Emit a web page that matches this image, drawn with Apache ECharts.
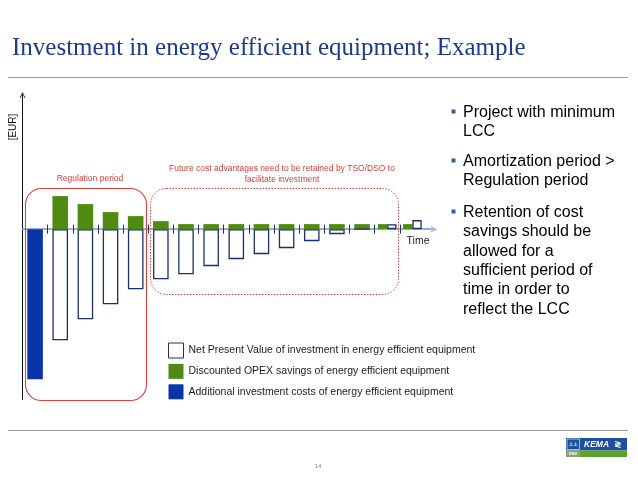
<!DOCTYPE html>
<html><head><meta charset="utf-8">
<script src="https://cdn.jsdelivr.net/npm/echarts@6/dist/echarts.min.js"></script>
<style>html,body{margin:0;padding:0;background:#fff}#c{width:638px;height:479px}</style>
</head><body><div id="c"></div>
<script>
// ---- data ----
const periods = [0,1,2,3,4,5,6,7,8,9,10,11,12,13,14,15];
const investment = [-150];                                   // period 0
const savings = [33,25,17,13,8,5,5,5,5,5,5,5,5,5,5];         // periods 1..15
const npv = [-111,-90,-75,-60,-50,-45,-37,-30,-25,-19,-12,-5,0,5,9]; // periods 1..15
const legendNames = [
  'Net Present Value of investment in energy efficient equipment',
  'Discounted OPEX savings of energy efficient equipment',
  'Additional investment costs of energy efficient equipment'
];
const titleText = 'Investment in energy efficient equipment; Example';
const yAxisName = '[EUR]';
const xAxisName = 'Time';
const regulationLabel = 'Regulation period';
const futureLabel = 'Future cost advantages need to be retained by TSO/DSO to\nfacilitate investment';
const bullets = [
  'Project with minimum\nLCC',
  'Amortization period >\nRegulation period',
  'Retention of cost\nsavings should be\nallowed for a\nsufficient period of\ntime in order to\nreflect the LCC'
];
const pageNumber = '14';
const SIDE_FROM = 14; // periods drawn side by side

// ---- build ----
const later = periods.slice(1);
const pairs = arr => later.map((p, i) => [p, arr[i]]);
const mainPart = arr => pairs(arr).filter(d => d[0] < SIDE_FROM);
const sidePart = arr => pairs(arr).filter(d => d[0] >= SIDE_FROM);
const tickValues = later.map(p => p - 0.5);

const GREEN = '#4f8a12', BLUE = '#0a34a8', NAVY = '#1b2f6b';
const RED = '#d9413b';
const npvStyle = {color: '#ffffff', borderColor: NAVY, borderWidth: 1.3};

const chart = echarts.init(document.getElementById('c'), null, {renderer: 'canvas'});

const graphic = [
  {type: 'text', x: 12, y: 48.5, style: {text: titleText, font: '25px "Liberation Serif"', fill: '#1b3a8f', verticalAlign: 'middle'}},
  {type: 'line', shape: {x1: 8, y1: 77.5, x2: 628, y2: 77.5}, style: {stroke: '#9a9a9a', lineWidth: 1.2}},
  {type: 'line', shape: {x1: 8, y1: 430.5, x2: 628, y2: 430.5}, style: {stroke: '#9a9a9a', lineWidth: 1.2}},
  {type: 'text', x: 13, y: 127, rotation: Math.PI / 2, style: {text: yAxisName, x: 0, y: 0, font: '10px "Liberation Sans"', fill: '#111', align: 'center', verticalAlign: 'middle'}},
  {type: 'text', x: 418, y: 241, style: {text: xAxisName, font: '10.5px "Liberation Sans"', fill: '#222', align: 'center', verticalAlign: 'middle'}},
  // regulation period box
  {type: 'rect', shape: {x: 25.5, y: 188.5, width: 121, height: 212, r: 16}, style: {fill: 'none', stroke: RED, lineWidth: 1.1}, z: 10},
  {type: 'text', x: 90, y: 179, style: {text: regulationLabel, font: '8.5px "Liberation Sans"', fill: RED, align: 'center', verticalAlign: 'middle'}},
  // future box
  {type: 'rect', shape: {x: 150.5, y: 188.5, width: 248, height: 106, r: 16}, style: {fill: 'none', stroke: RED, lineWidth: 1, lineDash: [1.5, 1.5]}, z: 10},
  {type: 'text', x: 282, y: 174.5, style: {text: futureLabel, font: '8.5px "Liberation Sans"', fill: RED, align: 'center', verticalAlign: 'middle', lineHeight: 11}},
  {type: 'text', x: 318, y: 466, style: {text: pageNumber, font: '6px "Liberation Sans"', fill: '#888', align: 'center', verticalAlign: 'middle'}},
  // logo
  {type: 'rect', shape: {x: 566, y: 438, width: 61, height: 12.5}, style: {fill: '#1f4f9f'}},
  {type: 'rect', shape: {x: 566, y: 450.5, width: 14, height: 6.5}, style: {fill: '#86a86c'}},
  {type: 'rect', shape: {x: 580, y: 450.5, width: 47, height: 6.5}, style: {fill: '#5ea12c'}},
  {type: 'rect', shape: {x: 567, y: 439, width: 12.5, height: 10.5}, style: {fill: 'none', stroke: '#fff', lineWidth: 0.6}},
  {type: 'text', x: 573.3, y: 444.5, style: {text: '⚓⚓', font: '5px "DejaVu Sans"', fill: '#fff', align: 'center', verticalAlign: 'middle'}},
  {type: 'text', x: 573, y: 453.8, style: {text: 'DNV', font: 'bold 4px "Liberation Sans"', fill: '#fff', align: 'center', verticalAlign: 'middle'}},
  {type: 'text', x: 584, y: 444.5, style: {text: 'KEMA', font: 'italic bold 8.5px "Liberation Sans"', fill: '#fff', verticalAlign: 'middle'}},
  {type: 'text', x: 614, y: 444.5, style: {text: '≷', font: 'bold 9px "DejaVu Sans"', fill: '#fff', verticalAlign: 'middle'}}
];
const firstLineCenters = [112.7, 161.7, 212.7];
bullets.forEach((b, i) => {
  graphic.push({type: 'rect', shape: {x: 451.5, y: firstLineCenters[i] - 3.2, width: 4, height: 4}, style: {fill: '#2f5ea8'}});
  graphic.push({type: 'text', x: 463, y: firstLineCenters[i] - 9.65, style: {text: b, font: '16px "Liberation Sans"', fill: '#000', verticalAlign: 'top', lineHeight: 19.3}});
});

const xCommon = {
  type: 'value', min: -0.5, max: 15.82,
  axisLabel: {show: false}, splitLine: {show: false}
};

chart.setOption({
  animation: false,
  backgroundColor: '#fff',
  grid: {left: 22.5, right: 205, top: 95, bottom: 79.7, containLabel: false, outerBoundsMode: 'none'},
  xAxis: [
    Object.assign({}, xCommon, {
      position: 'bottom',
      axisLine: {show: true, onZero: true, onZeroAxisIndex: 0,
        lineStyle: {color: '#7e95c2', width: 1.6},
        symbol: ['none', 'path://M0,10 L5,0 L10,10 L8.6,10 L5,2.8 L1.4,10 Z'], symbolSize: [9, 6], symbolOffset: [0, 1]},
      axisTick: {show: true, inside: true, length: 4.5, customValues: tickValues, lineStyle: {color: NAVY, width: 1}}
    }),
    Object.assign({}, xCommon, {
      position: 'bottom',
      axisLine: {show: false, onZero: true, onZeroAxisIndex: 0},
      axisTick: {show: true, inside: false, length: 4.5, customValues: tickValues, lineStyle: {color: NAVY, width: 1}}
    })
  ],
  yAxis: {
    type: 'value', min: -170, max: 134,
    axisLine: {show: true, onZero: false, lineStyle: {color: '#111', width: 1},
      symbol: ['none', 'path://M0,10 L5,0 L10,10 L8.6,10 L5,2.8 L1.4,10 Z'], symbolSize: [7, 6]},
    axisTick: {show: false}, axisLabel: {show: false}, splitLine: {show: false}
  },
  legend: {
    data: legendNames, orient: 'vertical', left: 163, top: 337.5,
    itemWidth: 15, itemHeight: 15, itemGap: 5.4, icon: 'rect',
    selectedMode: false,
    itemStyle: {borderWidth: 1},
    textStyle: {fontSize: 10.5, fontFamily: 'Liberation Sans', color: '#1a1a1a', padding: [0, 0, 0, 0]}
  },
  series: [
    {name: legendNames[2], type: 'bar', xAxisIndex: 0, barWidth: 15.6, barGap: '-100%',
      data: [[periods[0], investment[0]]], itemStyle: {color: BLUE}},
    {name: legendNames[1], type: 'bar', xAxisIndex: 0, barWidth: 15.6, barGap: '-100%',
      data: mainPart(savings), itemStyle: {color: GREEN}},
    {name: legendNames[0], type: 'bar', xAxisIndex: 0, barWidth: 15.6, barGap: '-100%',
      data: mainPart(npv), itemStyle: npvStyle},
    {name: legendNames[1], type: 'bar', xAxisIndex: 1, barWidth: 9.3, barGap: '0%',
      data: sidePart(savings), itemStyle: {color: GREEN}},
    {name: legendNames[0], type: 'bar', xAxisIndex: 1, barWidth: 9.3, barGap: '0%',
      data: sidePart(npv), itemStyle: npvStyle}
  ],
  graphic: graphic
});
</script>
</body></html>
